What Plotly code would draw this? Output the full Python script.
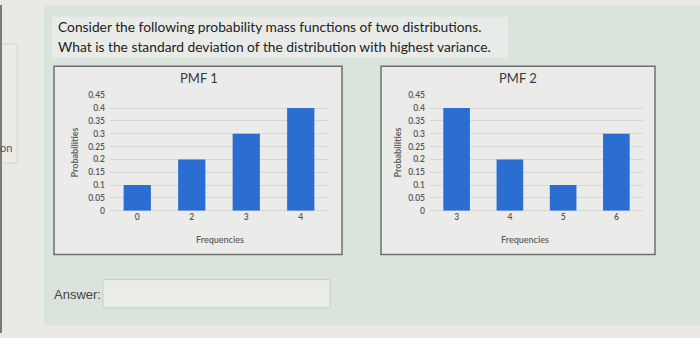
import plotly.graph_objects as go

# ---- data ----
pmf1_x = ["0", "2", "3", "4"]
pmf1_p = [0.1, 0.2, 0.3, 0.4]
pmf2_x = ["3", "4", "5", "6"]
pmf2_p = [0.4, 0.2, 0.1, 0.3]
y_ticks = [0, 0.05, 0.1, 0.15, 0.2, 0.25, 0.3, 0.35, 0.4, 0.45]
y_tick_text = ["0", "0.05", "0.1", "0.15", "0.2", "0.25", "0.3", "0.35", "0.4", "0.45"]

W, H = 700, 338
def px(x):
    return x / W
def py(y):
    return 1 - y / H

BAR = "#2c6dd2"
FONT = "Lato"

fig = go.Figure()
fig.add_trace(go.Bar(x=pmf1_x, y=pmf1_p, marker=dict(color=BAR, line=dict(width=0)),
                     xaxis="x", yaxis="y", showlegend=False))
fig.add_trace(go.Bar(x=pmf2_x, y=pmf2_p, marker=dict(color=BAR, line=dict(width=0)),
                     xaxis="x2", yaxis="y2", showlegend=False))

ydom = [py(212), py(93)]
axis_common = dict(showgrid=False, zeroline=False, showline=False, ticks="",
                   tickfont=dict(family=FONT, size=8.5, color="#555", weight=600), fixedrange=True)
yaxis_common = dict(range=[0, 0.45], tickvals=y_ticks, ticktext=y_tick_text,
                    showgrid=True, gridcolor="#d6d6d6", gridwidth=1, zeroline=True,
                    zerolinecolor="#d6d6d6", zerolinewidth=1, showline=False, ticks="",
                    tickfont=dict(family=FONT, size=8.5, color="#555", weight=600),
                    ticklabelstandoff=4, fixedrange=True)

fig.update_layout(
    width=W, height=H, margin=dict(l=0, r=0, t=0, b=0),
    paper_bgcolor="#ebe9e3", plot_bgcolor="rgba(0,0,0,0)",
    bargap=0.5,
    xaxis=dict(domain=[px(110), px(328)], anchor="y", type="category", **axis_common),
    yaxis=dict(domain=ydom, anchor="x", **yaxis_common),
    xaxis2=dict(domain=[px(430), px(643)], anchor="y2", type="category", **axis_common),
    yaxis2=dict(domain=ydom, anchor="x2", **yaxis_common),
)

shapes = []
def rect(x0, y0, x1, y1, fill, line_color=None, lw=0):
    shapes.append(dict(type="rect", xref="paper", yref="paper",
                       x0=px(x0), x1=px(x1), y0=py(y1), y1=py(y0),
                       fillcolor=fill, line=dict(color=line_color or fill, width=lw),
                       layer="below"))

# left strip elements
rect(-5, 40, 17, 163, "#ecebe6", "#d6d4cd", 1)
rect(0, 0, 2, 338, "#7c7b77")
# panel
rect(38, 0, 705, 330, "#dbe3dd")
rect(38, 0, 44, 330, "#e5ebe6")
# question text background
rect(52, 12, 508, 54, "#e9ebe8")
# chart boxes
rect(54, 63, 342, 257, "#ebebea", "#6f6f6f", 1.5)
rect(381, 63, 655, 257, "#ebebea", "#6f6f6f", 1.5)
# answer input
rect(103, 283, 330, 312, "#ebede9", "#c9cdc9", 1)
fig.update_layout(shapes=shapes)

ann = []
def text(x, y, s, size, color="#333", xanchor="left", angle=0, family=FONT, weight="normal"):
    ann.append(dict(xref="paper", yref="paper", x=px(x), y=py(y), text=s, showarrow=False,
                    xanchor=xanchor, yanchor="middle", textangle=angle,
                    font=dict(family=family, size=size, color=color, weight=weight)))

text(56, 22, "Consider the following probability mass functions of two distributions.", 13.8, "#222")
text(56, 43, "What is the standard deviation of the distribution with highest variance.", 13.8, "#222")
text(199, 75, "PMF 1", 13, "#3a3a3a", "center")
text(518, 75, "PMF 2", 13, "#3a3a3a", "center")
text(220, 242, "Frequencies", 9, "#5e5e5e", "center", weight=600)
text(525, 242, "Frequencies", 9, "#5e5e5e", "center", weight=600)
text(75, 152, "Probabilities", 9, "#666", "center", -90, weight="bold")
text(398, 152, "Probabilities", 9, "#666", "center", -90, weight="bold")
text(52, 298, "Answer:", 13, "#444", family="Liberation Sans")
text(-2, 147, "on", 11, "#555")
fig.update_layout(annotations=ann)

fig.write_html("out.html")
